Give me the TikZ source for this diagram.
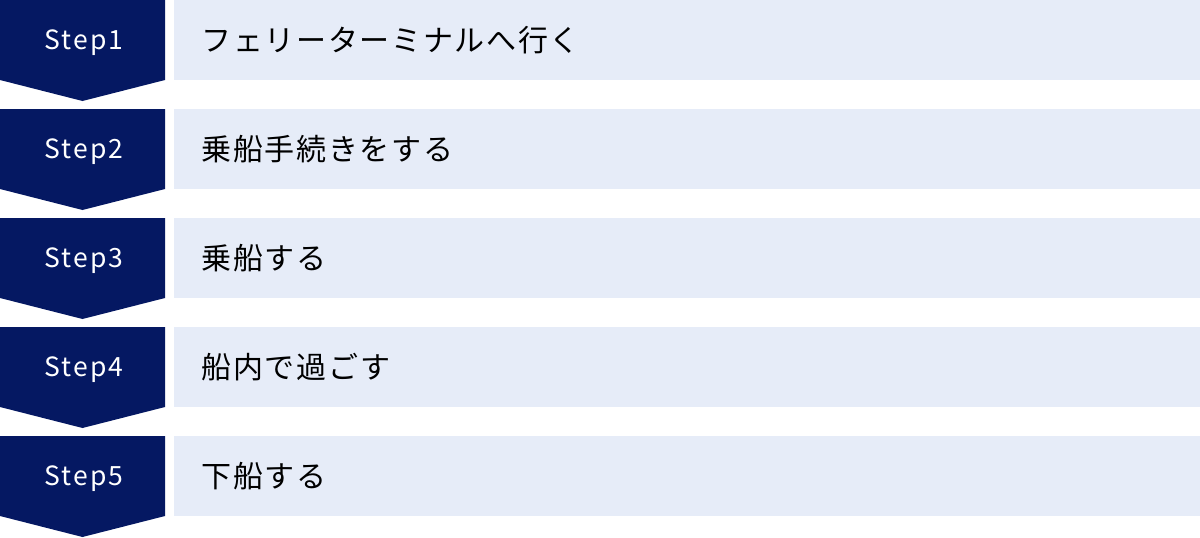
\documentclass[tikz,border=0pt]{standalone}
\usepackage{fontspec}
\setmainfont{Noto Sans CJK JP}
\definecolor{navy}{HTML}{051862}
\definecolor{lightbg}{HTML}{E6ECF8}
\begin{document}
\begin{tikzpicture}[x=1pt,y=-1pt,
  stepshape/.style={fill=navy,draw=none},
  barbox/.style={fill=lightbg,draw=none},
  steplabel/.style={text=white,font=\fontsize{26.5}{30}\selectfont\addfontfeature{LetterSpace=8}},
  barlabel/.style={text=black,anchor=west,font=\fontsize{30}{34}\selectfont\addfontfeature{LetterSpace=5.5}}]
\useasboundingbox (0,0) rectangle (1200,538);
\foreach \i/\t in {1/フェリーターミナルへ行く,2/乗船手続きをする,3/乗船する,4/船内で過ごす,5/下船する}{
  \pgfmathsetmacro{\yt}{(\i-1)*109}
  \fill[stepshape] (0,\yt) -- (165,\yt) -- (165,\yt+80) -- (82.5,\yt+101) -- (0,\yt+80) -- cycle;
  \fill[barbox] (174,\yt) rectangle (1200,\yt+80);
  \node[steplabel] (s\i) at (84,\yt+42.5) {Step\i};
  \node[barlabel] (b\i) at (198,\yt+40) {\t};
}
\end{tikzpicture}
\end{document}
